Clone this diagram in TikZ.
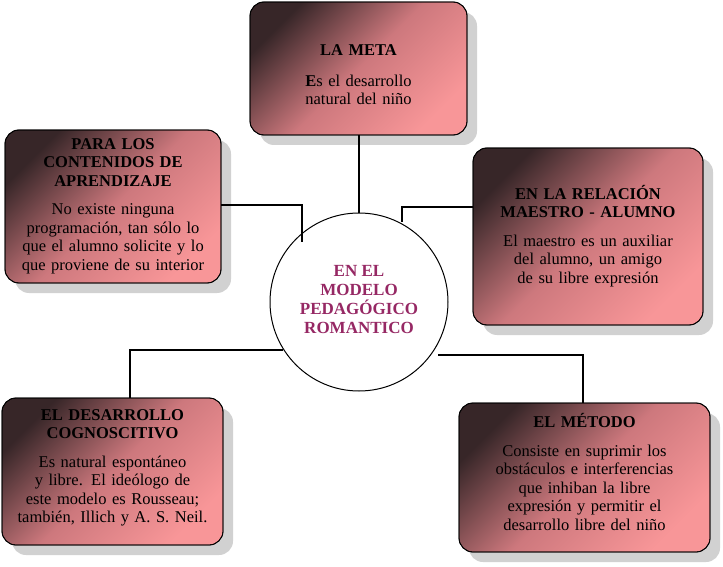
\documentclass[tikz,border=0pt]{standalone}
\usepackage{fontspec}
\setmainfont{Liberation Serif}
\definecolor{dk}{RGB}{55,38,40}
\definecolor{md}{RGB}{205,120,125}
\definecolor{lt}{RGB}{248,150,152}
\definecolor{pur}{RGB}{150,40,100}
\hyphenpenalty=10000
\exhyphenpenalty=10000
\begin{document}
\begin{tikzpicture}[x=1pt,y=-1pt,
  box/.style={rounded corners=14pt,draw=black,line width=0.8pt},
  shad/.style={rounded corners=14pt,fill=black!18},
  conn/.style={line width=2.2pt},
  txt/.style={align=center,font=\fontsize{16.5}{18.5}\selectfont}]
\useasboundingbox (0,0) rectangle (723,567);
\newcommand{\rbox}[4]{%
  \fill[shad] (#1+10,#2+10) rectangle (#3+10,#4+10);
  \shade[box,left color=dk,right color=lt,middle color=md,shading angle=45] (#1,#2) rectangle (#3,#4);
  \draw[rounded corners=14pt,line width=0.8pt] (#1,#2) rectangle (#3,#4);}
\rbox{250}{2}{467}{135}
\rbox{5}{130}{221}{283}
\rbox{473}{148}{703}{325}
\rbox{2}{398}{223}{545}
\rbox{459}{403}{710}{552}
\node[circle,draw,line width=1pt,fill=white,minimum size=178pt,inner sep=0pt] (c) at (359,302) {};
\node[align=center,text=pur,font=\fontsize{17}{19}\selectfont\bfseries] (ct) at (359,300) {EN EL\\MODELO\\PEDAGÓGICO\\ROMANTICO};
\coordinate (meta) at (359,135);
\coordinate (p) at (221,205);
\coordinate (r) at (473,207);
\coordinate (db) at (130,398);
\coordinate (mb) at (583,403);
\draw[conn] (meta) -- (c.north);
\draw[conn] (p) -- (302,205) -- (302,242);
\draw[conn] (r) -- (402,207) -- (402,222);
\draw[conn] (283,350) -- (130,350) -- (db);
\draw[conn] (438,355) -- (583,355) -- (mb);
\node[txt,text width=205pt] (t1) at (358.5,75) {\textbf{LA META}\\[12pt]\textbf{E}s el desarrollo natural del niño};
\node[txt,text width=195pt] (t2) at (113,206) {\textbf{PARA LOS CONTENIDOS DE APRENDIZAJE}\\[10pt]No existe ninguna programación, tan sólo lo que el alumno solicite y lo que proviene de su interior};
\node[txt,text width=212pt] (t3) at (588,236) {\textbf{EN LA RELACIÓN MAESTRO - ALUMNO}\\[10pt]El maestro es un auxiliar del alumno, un amigo de su libre expresión};
\node[txt,text width=198pt] (t4) at (112.5,468) {\textbf{EL DESARROLLO COGNOSCITIVO}\\[10pt]Es natural espontáneo y libre. El ideólogo de este modelo es Rousseau; también, Illich y A. S. Neil.};
\node[txt,text width=238pt] (t5) at (584.5,472) {\textbf{EL MÉTODO}\\[10pt]Consiste en suprimir los obstáculos e interferencias que inhiban la libre expresión y permitir el desarrollo libre del niño};
\end{tikzpicture}
\end{document}
